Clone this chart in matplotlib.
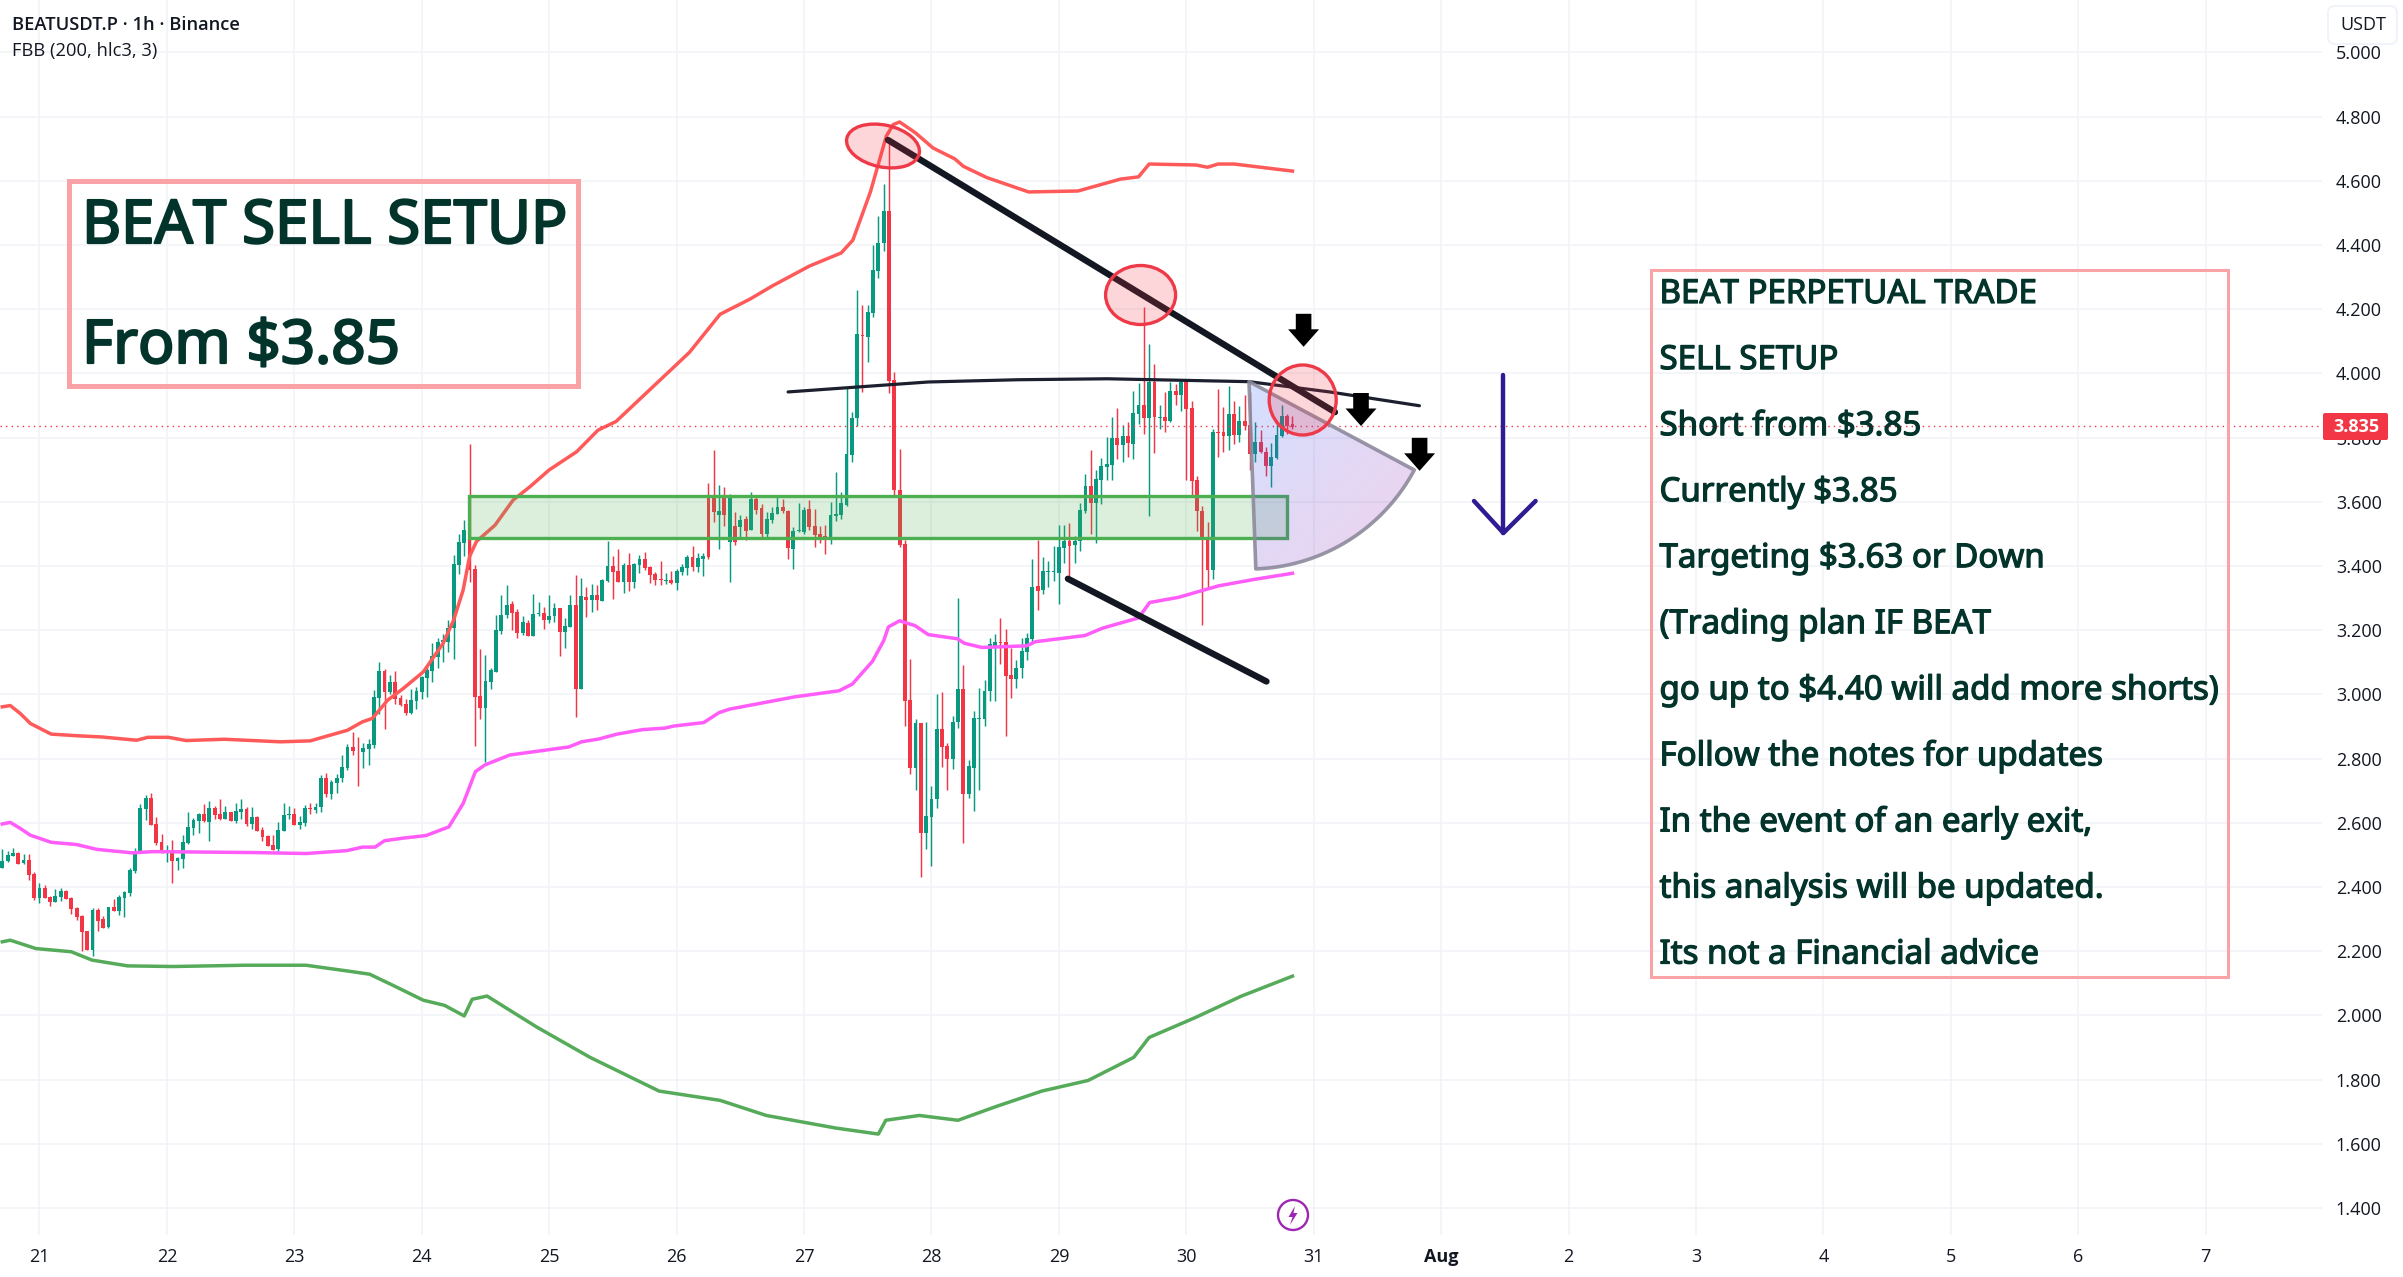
import numpy as np
import matplotlib
matplotlib.use("Agg")
import matplotlib.pyplot as plt
import matplotlib.patheffects as pe
from matplotlib.patches import Ellipse, Polygon, Rectangle, Circle, FancyBboxPatch

W, H = 2403, 1277
# ---- candle data: hour index 0 = first visible bar, hour 7 = 21st 00:00
directions = list(
    "GGGRGRRGRR" "GGRRRRRGRR" "GRGGGGGGRR" "RGRGGGGGRG" "RRGRGGRGRR"
    "RRGGGRGGRG" "GRGGGGRRGG" "GGRGRRRGGG" "GGGGGGGGRR" "RGGGGGRRGR"
    "GGRGGRGGRG" "RGRGGRRGRG" "GRRRRGRGGG" "RGGRRGRGRG" "RGRRGGGRRG"
    "GGRRRRGGGG" "GGRGGGGRRR" "RRGRGGGRRG" "GRGGGGGGRR" "RGGGGRGGGG"
    "GRGGGRGGGG" "RGRGGRGRGR" "GRGRRRRRGR" "RGRGRRGRRG" "GGRR")
highs = [
    2.518,2.513,2.520,2.508,2.502,2.502,2.446,2.412,2.406,2.372,
    2.393,2.397,2.390,2.369,2.337,2.312,2.263,2.334,2.334,2.309,
    2.337,2.362,2.375,2.387,2.459,2.521,2.658,2.686,2.692,2.618,
    2.565,2.531,2.546,2.493,2.562,2.633,2.615,2.630,2.658,2.668,
    2.652,2.674,2.652,2.633,2.661,2.674,2.649,2.649,2.621,2.587,
    2.562,2.562,2.602,2.661,2.652,2.646,2.621,2.654,2.661,2.661,
    2.749,2.755,2.733,2.752,2.811,2.845,2.883,2.867,2.848,2.861,
    3.013,3.101,3.079,3.060,3.073,2.998,2.985,3.017,3.023,3.057,
    3.088,3.160,3.175,3.188,3.231,3.434,3.500,3.543,3.780,3.403,
    3.141,3.122,3.082,3.247,3.309,3.341,3.291,3.266,3.244,3.231,
    3.313,3.288,3.272,3.309,3.284,3.269,3.238,3.309,3.372,3.362,
    3.334,3.344,3.341,3.359,3.478,3.431,3.453,3.409,3.440,3.409,
    3.434,3.443,3.400,3.381,3.415,3.378,3.384,3.390,3.406,3.434,
    3.462,3.440,3.440,3.658,3.761,3.652,3.646,3.624,3.568,3.559,
    3.555,3.630,3.615,3.593,3.568,3.583,3.621,3.608,3.574,3.521,
    3.596,3.583,3.605,3.577,3.524,3.527,3.599,3.692,3.630,3.956,
    3.879,4.259,4.212,4.213,4.399,4.491,4.590,4.730,4.003,3.764,
    3.482,3.110,2.923,2.912,2.913,2.713,3.001,3.008,2.848,2.932,
    3.300,3.092,2.796,2.948,3.020,3.044,3.175,3.187,3.237,3.202,
    3.143,3.108,3.175,3.192,3.421,3.481,3.428,3.416,3.463,3.528,
    3.527,3.534,3.493,3.596,3.686,3.761,3.699,3.736,3.801,3.864,
    3.892,3.839,3.848,3.945,3.970,4.208,4.091,4.029,3.901,3.942,
    3.973,3.967,3.979,3.982,3.914,3.680,3.587,3.537,3.826,3.951,
    3.895,3.960,3.914,3.898,3.932,3.942,3.848,3.823,3.770,3.783,
    3.848,3.901,3.873,3.867]
body_tops = [
    2.481,2.499,2.506,2.506,2.484,2.484,2.440,2.397,2.397,2.369,
    2.372,2.387,2.387,2.365,2.334,2.309,2.263,2.328,2.328,2.300,
    2.337,2.337,2.369,2.384,2.453,2.512,2.646,2.677,2.677,2.596,
    2.540,2.515,2.515,2.490,2.540,2.587,2.608,2.627,2.627,2.646,
    2.646,2.627,2.633,2.633,2.636,2.643,2.643,2.618,2.618,2.577,
    2.559,2.531,2.577,2.624,2.627,2.627,2.602,2.646,2.646,2.649,
    2.739,2.739,2.727,2.739,2.774,2.836,2.836,2.827,2.833,2.845,
    2.992,3.073,3.073,3.038,3.038,2.989,2.970,2.982,3.010,3.054,
    3.076,3.119,3.163,3.169,3.208,3.406,3.473,3.512,3.512,3.390,
    2.995,3.041,3.076,3.200,3.247,3.278,3.281,3.256,3.225,3.222,
    3.250,3.253,3.253,3.244,3.269,3.269,3.213,3.278,3.278,3.306,
    3.303,3.309,3.309,3.356,3.400,3.400,3.384,3.403,3.403,3.406,
    3.422,3.422,3.397,3.375,3.359,3.356,3.356,3.384,3.397,3.428,
    3.428,3.425,3.431,3.615,3.615,3.571,3.621,3.621,3.524,3.543,
    3.546,3.608,3.608,3.580,3.546,3.565,3.583,3.583,3.571,3.509,
    3.512,3.574,3.577,3.524,3.499,3.493,3.559,3.562,3.596,3.748,
    3.860,4.122,4.120,4.191,4.321,4.406,4.505,4.505,3.979,3.636,
    3.468,2.982,2.911,2.911,2.621,2.673,2.892,2.892,2.839,2.913,
    3.016,3.016,2.777,2.927,2.927,3.010,3.156,3.163,3.163,3.163,
    3.060,3.082,3.135,3.175,3.335,3.336,3.385,3.385,3.385,3.459,
    3.478,3.478,3.478,3.574,3.649,3.649,3.671,3.711,3.717,3.798,
    3.798,3.805,3.805,3.876,3.901,3.901,3.973,3.973,3.864,3.864,
    3.945,3.945,3.973,3.979,3.892,3.668,3.571,3.484,3.817,3.817,
    3.817,3.873,3.873,3.851,3.851,3.839,3.786,3.786,3.755,3.739,
    3.808,3.867,3.867,3.842]
body_bottoms = [
    2.459,2.481,2.496,2.471,2.474,2.437,2.365,2.365,2.365,2.353,
    2.353,2.369,2.362,2.331,2.306,2.259,2.203,2.203,2.294,2.272,
    2.275,2.325,2.325,2.365,2.381,2.449,2.509,2.643,2.593,2.536,
    2.509,2.512,2.481,2.481,2.487,2.537,2.583,2.605,2.604,2.602,
    2.624,2.612,2.612,2.605,2.605,2.633,2.596,2.596,2.574,2.555,
    2.527,2.515,2.518,2.574,2.624,2.593,2.594,2.599,2.644,2.640,
    2.649,2.689,2.689,2.724,2.739,2.770,2.823,2.825,2.820,2.830,
    2.842,2.988,3.007,3.007,2.985,2.967,2.942,2.942,2.979,3.007,
    3.051,3.073,3.116,3.163,3.163,3.207,3.403,3.471,3.387,2.993,
    2.957,2.957,3.038,3.070,3.197,3.247,3.253,3.191,3.191,3.182,
    3.182,3.250,3.232,3.232,3.244,3.194,3.194,3.210,3.017,3.017,
    3.294,3.294,3.294,3.291,3.353,3.381,3.350,3.350,3.350,3.350,
    3.403,3.393,3.372,3.356,3.357,3.354,3.347,3.347,3.381,3.394,
    3.397,3.397,3.421,3.428,3.568,3.559,3.559,3.474,3.474,3.521,
    3.509,3.512,3.574,3.499,3.499,3.543,3.562,3.571,3.456,3.453,
    3.509,3.506,3.521,3.496,3.490,3.481,3.481,3.555,3.559,3.591,
    3.747,3.860,4.117,4.113,4.187,4.318,4.405,3.977,3.637,3.464,
    2.979,2.770,2.770,2.567,2.567,2.617,2.673,2.835,2.797,2.797,
    2.913,2.689,2.689,2.770,2.923,2.923,3.009,3.151,3.161,3.056,
    3.048,3.048,3.082,3.132,3.173,3.321,3.324,3.382,3.382,3.379,
    3.457,3.462,3.465,3.478,3.571,3.596,3.596,3.668,3.708,3.714,
    3.777,3.777,3.783,3.780,3.873,3.861,3.861,3.864,3.862,3.851,
    3.851,3.932,3.932,3.889,3.664,3.571,3.484,3.387,3.387,3.814,
    3.805,3.805,3.808,3.808,3.836,3.749,3.749,3.755,3.711,3.711,
    3.736,3.805,3.836,3.833]
lows = [
    2.459,2.479,2.496,2.471,2.471,2.421,2.359,2.350,2.365,2.340,
    2.353,2.356,2.362,2.316,2.297,2.200,2.203,2.185,2.263,2.272,
    2.272,2.325,2.312,2.306,2.372,2.443,2.506,2.608,2.593,2.531,
    2.506,2.478,2.412,2.453,2.459,2.534,2.562,2.568,2.602,2.543,
    2.612,2.608,2.612,2.605,2.599,2.612,2.590,2.580,2.574,2.543,
    2.527,2.515,2.512,2.574,2.612,2.593,2.580,2.591,2.627,2.630,
    2.633,2.680,2.674,2.693,2.727,2.764,2.811,2.714,2.770,2.780,
    2.833,2.939,2.892,3.001,2.970,2.964,2.936,2.939,2.954,2.985,
    2.992,3.038,3.082,3.101,3.132,3.110,3.375,3.431,3.350,2.839,
    2.923,2.789,3.016,3.070,3.188,3.238,3.200,3.175,3.185,3.182,
    3.182,3.244,3.203,3.222,3.225,3.119,3.144,3.210,2.929,3.017,
    3.241,3.257,3.263,3.291,3.350,3.297,3.350,3.316,3.322,3.331,
    3.378,3.387,3.347,3.341,3.341,3.344,3.344,3.325,3.372,3.372,
    3.384,3.381,3.369,3.421,3.537,3.453,3.524,3.350,3.465,3.490,
    3.481,3.512,3.562,3.484,3.487,3.534,3.562,3.565,3.421,3.390,
    3.506,3.499,3.512,3.459,3.471,3.437,3.468,3.540,3.546,3.587,
    3.725,3.835,3.943,4.036,4.174,4.297,4.380,3.939,3.621,3.459,
    2.901,2.752,2.703,2.432,2.517,2.466,2.646,2.774,2.703,2.766,
    2.896,2.536,2.676,2.638,2.703,2.901,2.979,2.979,3.094,2.871,
    2.990,3.020,3.051,3.108,3.159,3.263,3.311,3.335,3.354,3.281,
    3.408,3.366,3.408,3.446,3.565,3.499,3.471,3.593,3.668,3.668,
    3.733,3.724,3.739,3.733,3.842,3.811,3.555,3.752,3.826,3.817,
    3.848,3.901,3.882,3.668,3.621,3.509,3.216,3.331,3.359,3.739,
    3.755,3.761,3.780,3.786,3.823,3.699,3.724,3.752,3.680,3.646,
    3.733,3.801,3.811,3.826]

# ---- FBB bands
upper_hours = [0,1.5,3.4,5.3,9.2,14,18.8,25.3,27.4,31.3,34.6,41.8,52.4,58,65,67.8,69.7,72.6,75.5,79.3,83,85,
               86.8,88,89.3,92.8,96.2,99.4,103,108.2,112.2,115.6,129.4,135.2,140.8,145,152,158,160.2,163.5,166.5,
               167.8,169,172,175.3,179.4,181,185.4,193.3,202.6,210.6,214,216,224.8,227,229,232,243]
upper_band = [2.961,2.965,2.940,2.909,2.876,2.871,2.867,2.857,2.866,2.866,2.856,2.860,2.852,2.855,2.888,2.914,2.925,
              2.982,3.018,3.070,3.158,3.231,3.325,3.429,3.476,3.527,3.605,3.647,3.699,3.756,3.823,3.850,4.065,4.184,
              4.231,4.272,4.334,4.375,4.415,4.565,4.739,4.775,4.783,4.749,4.702,4.668,4.645,4.610,4.565,4.568,4.605,
              4.612,4.652,4.649,4.642,4.652,4.652,4.630]
basis_hours = [0,1.5,3.4,5.3,9.2,14,17.8,24.5,28.4,47.6,57.2,64.9,67.8,70.2,72,75.5,79.8,84.1,86.8,89.1,90.9,95.6,
               106.7,109.1,112.4,115.8,120.6,124.9,126.4,132.1,135,137,149.2,157.6,160.1,163.9,166,166.9,169,171.9,
               174.4,179.9,181.2,184.5,192.9,194.6,203.9,207.2,214,216.1,221.5,229.1,235.8,243]
basis_band = [2.596,2.601,2.582,2.561,2.539,2.532,2.517,2.506,2.510,2.507,2.504,2.513,2.524,2.524,2.544,2.552,2.560,
              2.587,2.660,2.759,2.780,2.811,2.836,2.852,2.861,2.876,2.890,2.895,2.901,2.912,2.943,2.954,2.992,3.011,
              3.032,3.103,3.167,3.210,3.229,3.214,3.186,3.173,3.159,3.146,3.151,3.164,3.183,3.206,3.238,3.286,3.302,
              3.338,3.358,3.377]
lower_hours = [0,1.5,6.3,13,16.9,23.6,32.2,45.7,57.2,65.9,69.2,73.5,79.3,83.3,87,88.5,91.3,100.6,110.7,123.7,135.2,
               143.9,156.9,165,166.4,172.7,180,187.2,195.8,204.5,213.1,216,224.7,233.4,243]
lower_band = [2.229,2.234,2.208,2.198,2.172,2.154,2.152,2.156,2.156,2.136,2.128,2.094,2.047,2.031,1.998,2.050,2.060,
              1.964,1.869,1.764,1.735,1.688,1.649,1.630,1.673,1.688,1.673,1.716,1.764,1.797,1.869,1.931,1.993,2.060,
              2.122]

# ---- axis labels
price_ticks = [1.4,1.6,1.8,2.0,2.2,2.4,2.6,2.8,3.0,3.2,3.4,3.6,3.8,4.0,4.2,4.4,4.6,4.8,5.0]
day_labels = ["21","22","23","24","25","26","27","28","29","30","31","Aug","2","3","4","5","6","7"]
last_price = 3.835

# ---- drawings (hour, price)
zone_hours, zone_prices = (87.9, 241.9), (3.4875, 3.6165)
top_trend = ([166.8, 251.0], [4.727, 3.879])
low_trend = ([200.7, 238.1], [3.360, 3.040])
arc_hours = [148, 174.4, 191.3, 208.1, 234.8, 250, 266.9]
arc_prices = [3.942, 3.973, 3.980, 3.983, 3.974, 3.942, 3.899]

title_lines = ["BEAT SELL SETUP", "From $3.85"]
note_lines = ["BEAT PERPETUAL TRADE", "SELL SETUP", "Short from $3.85", "Currently $3.85",
              "Targeting $3.63 or Down", "(Trading plan IF BEAT", "go up to $4.40 will add more shorts)",
              "Follow the notes for updates", "In the event of an early exit,",
              "this analysis will be updated.", "Its not a Financial advice"]

UP, DOWN = "#089981", "#F23645"
GRID = "#F1F3F6"
TEXT = "#131722"
DARK = "#03342B"
BOX = "#F9A3A6"
UI_FONT = ["Open Sans", "DejaVu Sans"]
NOTE_FONT = ["Noto Sans", "DejaVu Sans"]

plt.rcParams["font.family"] = UI_FONT
fig = plt.figure(figsize=(W / 100, H / 100), dpi=100, facecolor="white")

# main pane: hour/price scales so that every mark is placed by the axes
pane_right, pane_bottom = 2322, 1235
ax = fig.add_axes([0, 1 - pane_bottom / H, pane_right / W, pane_bottom / H])
ax.set_xlim(-0.433, 436.9)
ax.set_ylim(1.3156, 5.163)
for s in ax.spines.values():
    s.set_visible(False)
ax.set_axisbelow(True)
ax.grid(True, color=GRID, lw=1.1)
ax.set_xticks([7 + 24 * i for i in range(len(day_labels))])
ax.set_xticklabels(day_labels)
ax.set_yticks(price_ticks)
ax.set_yticklabels([f"{p:.3f}" for p in price_ticks])
ax.yaxis.tick_right()
ax.tick_params(axis="both", length=0, labelsize=13, labelcolor=TEXT)
ax.tick_params(axis="y", pad=10)
ax.tick_params(axis="x", pad=9)
for lab in ax.get_xticklabels():
    if lab.get_text() == "Aug":
        lab.set_fontweight("bold")

hours = np.arange(len(highs))
colors = [UP if d == "G" else DOWN for d in directions]
ax.vlines(hours, lows, highs, colors=colors, lw=1.05, zorder=2)
ax.bar(hours, np.array(body_tops) - np.array(body_bottoms), bottom=body_bottoms, width=0.72,
       color=colors, lw=0, zorder=3)

ax.plot(upper_hours, upper_band, color="#FF5A5A", lw=2.5, zorder=4, solid_joinstyle="round")
ax.plot(basis_hours, basis_band, color="#FF5CF9", lw=2.5, zorder=4, solid_joinstyle="round")
ax.plot(lower_hours, lower_band, color="#56AB5A", lw=2.5, zorder=4, solid_joinstyle="round")

ax.plot([-0.433, 436.9], [last_price, last_price], color=DOWN, lw=1.0, ls=(0, (1, 3)), zorder=4)

ax.add_patch(Rectangle((zone_hours[0], zone_prices[0]), zone_hours[1] - zone_hours[0],
                       zone_prices[1] - zone_prices[0], facecolor=(0.298, 0.686, 0.314, 0.2),
                       edgecolor="#4CAF50", lw=2.4, zorder=5))
ax.plot(arc_hours, arc_prices, color="#1B1F2E", lw=2.3, zorder=6, solid_capstyle="round")
ax.plot(*top_trend, color="#131722", lw=4.6, zorder=8, solid_capstyle="round")
ax.plot(*low_trend, color="#131722", lw=4.6, zorder=8, solid_capstyle="round")

# overlay in figure pixels for the hand-placed annotations
ov = fig.add_axes([0, 0, 1, 1], facecolor="none")
ov.set_xlim(0, W)
ov.set_ylim(H, 0)
ov.axis("off")

# fan with diagonal gradient
apex = np.array([1249.0, 381.6])
end_a = np.array([1414.3, 470.0])
end_b = np.array([1255.8, 568.4])
radius = np.hypot(*(end_a - apex))
a0, a1 = np.arctan2(*(end_a - apex)[::-1]), np.arctan2(*(end_b - apex)[::-1])
t = np.linspace(a0, a1, 60)
fan_pts = np.vstack([apex, np.c_[apex[0] + radius * np.cos(t), apex[1] + radius * np.sin(t)]])
gx, gy = np.meshgrid(np.linspace(0, 1, 90), np.linspace(0, 1, 110))
mix = np.clip((gx + gy) / 2 * 1.2, 0, 1)
rgba = np.zeros(gx.shape + (4,))
rgba[..., 0] = 0.161 + (0.612 - 0.161) * mix
rgba[..., 1] = 0.384 + (0.153 - 0.384) * mix
rgba[..., 2] = 1.000 + (0.690 - 1.000) * mix
rgba[..., 3] = 0.2
fan_edge = Polygon(fan_pts, closed=True, facecolor="none", edgecolor="#8D8A9C", lw=2.6, alpha=0.9, zorder=6,
                   joinstyle="round")
ov.add_patch(fan_edge)
im = ov.imshow(rgba, extent=(apex[0], end_a[0] + 2, end_b[1] + 2, apex[1]), aspect="auto", zorder=5,
               interpolation="bilinear")
im.set_clip_path(Polygon(fan_pts, closed=True, transform=ov.transData))
ov.set_xlim(0, W)
ov.set_ylim(H, 0)

# circled touches
for cx, cy, w, h, ang in [(883, 146, 74, 42, 12), (1140.6, 295, 70, 59, 0), (1302.7, 400, 67, 70, 0)]:
    ov.add_patch(Ellipse((cx, cy), w, h, angle=ang, facecolor=(0.949, 0.212, 0.271, 0.2),
                         edgecolor="#EE3A48", lw=2.4, zorder=7))

# black down arrows
for cx, top in [(1303.6, 313.8), (1361, 393), (1419.6, 437.8)]:
    ov.add_patch(Polygon([(cx - 7.8, top), (cx + 7.8, top), (cx + 7.8, top + 15.5), (cx + 15.5, top + 15.5),
                          (cx, top + 33), (cx - 15.5, top + 15.5), (cx - 7.8, top + 15.5)],
                         closed=True, facecolor="black", edgecolor="none", zorder=9))

# indigo arrow
ov.plot([1503.4, 1503.4], [375, 533], color="#311B92", lw=3.2, zorder=9, solid_capstyle="round")
ov.plot([1474, 1503.4, 1535.6], [501, 533, 501], color="#311B92", lw=3.2, zorder=9, solid_capstyle="round")

# text boxes
ov.add_patch(Rectangle((68.5, 180.5), 509, 205, facecolor="none", edgecolor=BOX, lw=3.6, zorder=9))
for txt, base in zip(title_lines, (243, 363)):
    ov.text(82, base, txt, family=NOTE_FONT, fontsize=43.3, color=DARK, va="baseline", ha="left", zorder=10,
            path_effects=[pe.withStroke(linewidth=1.6, foreground=DARK)])
ov.add_patch(Rectangle((1651, 270), 577, 707, facecolor="none", edgecolor=BOX, lw=2.2, zorder=9))
for i, txt in enumerate(note_lines):
    ov.text(1659.5, 303 + 66.05 * i, txt, family=NOTE_FONT, fontsize=23.8, color=DARK, va="baseline", ha="left",
            zorder=10, path_effects=[pe.withStroke(linewidth=0.9, foreground=DARK)])

# header
ov.text(12.5, 25, "BEATUSDT.P · 1h · Binance", fontsize=13.2, color=TEXT, weight="semibold", va="center", zorder=10)
ov.text(12.5, 51, "FBB (200, hlc3, 3)", fontsize=13.2, color=TEXT, va="center", zorder=10)

# currency button, price tag
ov.add_patch(FancyBboxPatch((2332, 10), 61, 30, boxstyle="round,pad=4,rounding_size=7", facecolor="white",
                            edgecolor="#F0F3FA", lw=1.4, zorder=10))
ov.text(2363, 24.5, "USDT", fontsize=13, color=TEXT, ha="center", va="center", zorder=11)
ov.add_patch(FancyBboxPatch((2324, 414), 63, 25, boxstyle="round,pad=1,rounding_size=2", facecolor=DOWN,
                            edgecolor="none", zorder=10))
ov.text(2379.5, 427, f"{last_price:.3f}", fontsize=13, color="white", weight="bold", ha="right", va="center", zorder=11)

# lightning badge
ov.add_patch(Circle((1293, 1215), 15, facecolor="white", edgecolor="#9C27B0", lw=1.7, zorder=10))
ov.add_patch(Polygon([(1295, 1206), (1288.5, 1217), (1292.5, 1217), (1290, 1225), (1297.5, 1213), (1293.5, 1213)],
                     closed=True, facecolor="#9C27B0", edgecolor="none", zorder=11))

fig.savefig("out.png", dpi=100)
